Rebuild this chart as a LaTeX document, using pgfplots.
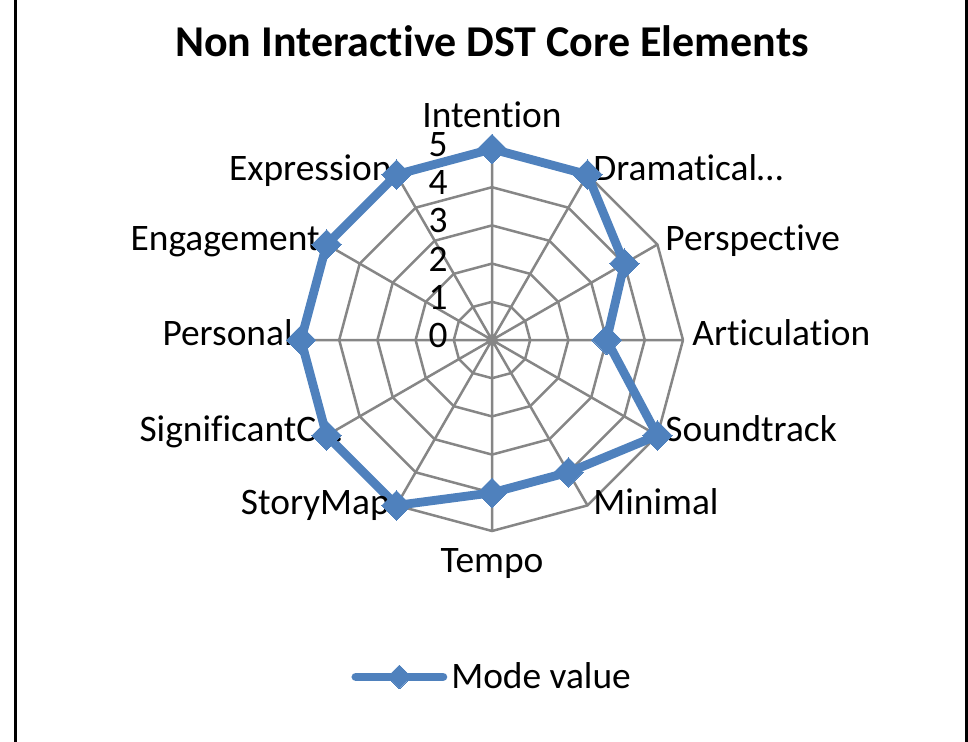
\documentclass[border=0pt]{standalone}
\usepackage{pgfplots}
\pgfplotsset{compat=1.18}
\usepgfplotslibrary{polar}
\usepackage{fontspec}
\setmainfont{Carlito}[Ligatures=NoCommon]
\definecolor{excelblue}{RGB}{79,129,189}
\definecolor{gridgray}{RGB}{134,134,134}
\newcommand{\lblfont}{\fontsize{18.7}{22}\selectfont}
\begin{document}
\begin{tikzpicture}[
    lbl/.style={font=\lblfont, inner sep=0pt, text height=0.75em, text depth=0.2em}]
\path[use as bounding box] (0pt,0pt) rectangle (484pt,-371pt);
\draw[line width=1.5pt] (7.65pt,0pt) -- (7.65pt,-371pt);
\draw[line width=1.5pt] (483.15pt,0pt) -- (483.15pt,-371pt);
\node[anchor=base, font=\bfseries\fontsize{22}{26}\selectfont] at (246pt,-28.5pt) {Non Interactive DST Core Elements};

\begin{polaraxis}[
    at={(246pt,-170pt)}, anchor=center,
    scale only axis, width=191pt, height=191pt,
    xmin=0, xmax=360, ymin=0, ymax=5,
    hide axis, clip=false,
    legend style={draw=none, fill=none, at={(0.503,-0.382)}, anchor=center,
        font=\lblfont, inner sep=0pt, nodes={inner sep=2pt}},
    legend image code/.code={
        \draw[#1, line cap=round, mark repeat=2, mark phase=2, mark size=4.2pt]
            plot coordinates {(0pt,0pt) (21.75pt,0pt) (43.5pt,0pt)};
    },
]
% polygonal grid
\addplot[gridgray, line width=1.25pt, forget plot] coordinates {(0,1)(30,1)(60,1)(90,1)(120,1)(150,1)(180,1)(210,1)(240,1)(270,1)(300,1)(330,1)(360,1)};
\addplot[gridgray, line width=1.25pt, forget plot] coordinates {(0,2)(30,2)(60,2)(90,2)(120,2)(150,2)(180,2)(210,2)(240,2)(270,2)(300,2)(330,2)(360,2)};
\addplot[gridgray, line width=1.25pt, forget plot] coordinates {(0,3)(30,3)(60,3)(90,3)(120,3)(150,3)(180,3)(210,3)(240,3)(270,3)(300,3)(330,3)(360,3)};
\addplot[gridgray, line width=1.25pt, forget plot] coordinates {(0,4)(30,4)(60,4)(90,4)(120,4)(150,4)(180,4)(210,4)(240,4)(270,4)(300,4)(330,4)(360,4)};
\addplot[gridgray, line width=1.25pt, forget plot] coordinates {(0,5)(30,5)(60,5)(90,5)(120,5)(150,5)(180,5)(210,5)(240,5)(270,5)(300,5)(330,5)(360,5)};
% spokes
\addplot[gridgray, line width=1.25pt, forget plot] coordinates {(0,0)(0,5)(0,0)(30,5)(0,0)(60,5)(0,0)(90,5)(0,0)(120,5)(0,0)(150,5)(0,0)(180,5)(0,0)(210,5)(0,0)(240,5)(0,0)(270,5)(0,0)(300,5)(0,0)(330,5)};

% mode values, clockwise from Intention
\addplot[excelblue, line width=4.4pt, line join=round,
    mark=square*, mark size=5.2pt, mark options={rotate=45, solid, line width=0pt}]
coordinates {
    (90,5)  % Intention
    (60,5)  % Dramatical
    (30,4)  % Perspective
    (0,3)   % Articulation
    (330,5) % Soundtrack
    (300,4) % Minimal
    (270,4) % Tempo
    (240,5) % StoryMap
    (210,5) % SignificantC
    (180,5) % Personal
    (150,5) % Engagement
    (120,5) % Expression
    (90,5)
};
\addlegendentry{Mode value}

% category labels
\node[lbl, anchor=base] at (axis cs:90,5) [yshift=11pt] {Intention};
\node[lbl, anchor=west] at (axis cs:60,5) [xshift=2.75pt] {Dramatical…};
\node[lbl, anchor=west] at (axis cs:30,5) [xshift=3.8pt] {Perspective};
\node[lbl, anchor=west] at (axis cs:0,5) [xshift=4.5pt] {Articulation};
\node[lbl, anchor=west] at (axis cs:330,5) [xshift=3.8pt] {Soundtrack};
\node[lbl, anchor=west] at (axis cs:300,5) [xshift=2.75pt, yshift=-2pt] {Minimal};
\node[lbl, anchor=base] at (axis cs:270,5) [yshift=-21pt] {Tempo};
\node[lbl, anchor=east] at (axis cs:240,5) [xshift=-3.2pt, yshift=-2pt] {StoryMap};
\node[lbl, anchor=east] at (axis cs:210,5) [xshift=8pt] {SignificantC…};
\node[lbl, anchor=east] at (axis cs:180,5) [xshift=-4pt] {Personal};
\node[lbl, anchor=east] at (axis cs:150,5) [xshift=-3.3pt] {Engagement};
\node[lbl, anchor=east] at (axis cs:120,5) [xshift=-2.25pt] {Expression};

% value labels
\node[lbl, anchor=east] at (axis cs:90,0) [xshift=-22pt, yshift=-1pt] {0};
\node[lbl, anchor=east] at (axis cs:90,1) [xshift=-22pt, yshift=-1pt] {1};
\node[lbl, anchor=east] at (axis cs:90,2) [xshift=-22pt, yshift=-1pt] {2};
\node[lbl, anchor=east] at (axis cs:90,3) [xshift=-22pt, yshift=-1pt] {3};
\node[lbl, anchor=east] at (axis cs:90,4) [xshift=-22pt, yshift=-1pt] {4};
\node[lbl, anchor=east] at (axis cs:90,5) [xshift=-22pt, yshift=-1pt] {5};
\end{polaraxis}
\end{tikzpicture}
\end{document}
